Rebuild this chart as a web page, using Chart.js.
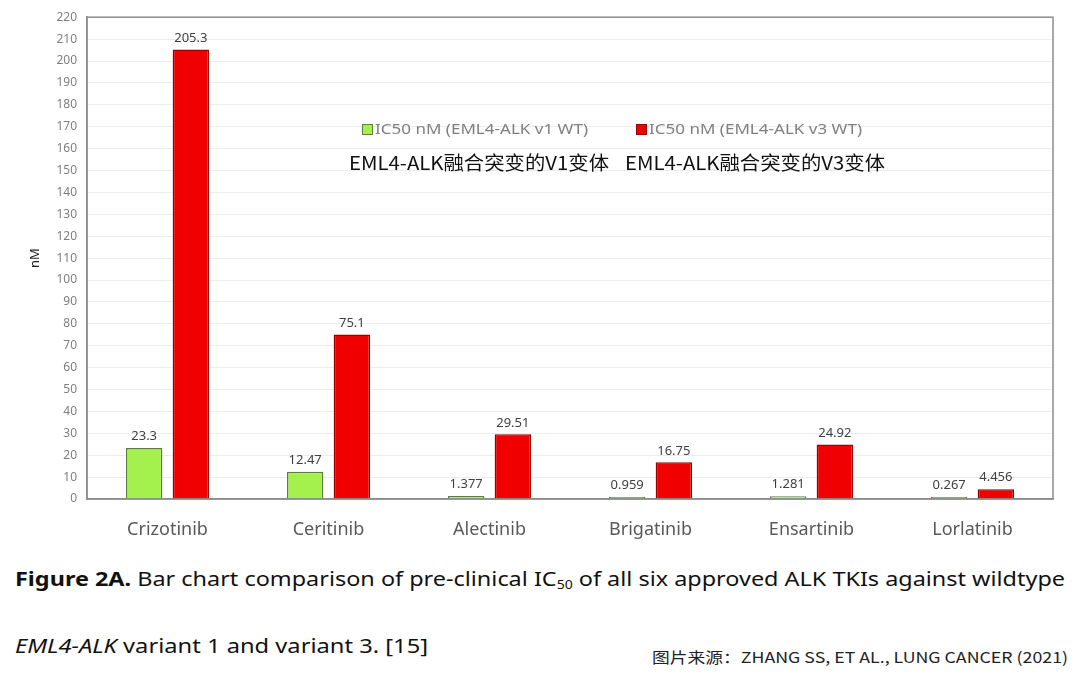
<!DOCTYPE html>
<html>
<head>
<meta charset="utf-8">
<script src="https://cdn.jsdelivr.net/npm/chart.js@4.4.1/dist/chart.umd.min.js"></script>
<style>
  html, body { margin:0; padding:0; background:#fff; width:1080px; height:685px; overflow:hidden; }
  #wrap { position:absolute; left:0; top:0; width:1080px; height:550px; }
  .cap1 { position:absolute; left:15px; top:565px; font-family:"Noto Sans", sans-serif; font-size:20px; color:#111; white-space:nowrap; transform-origin:left top; }
  .cap2 { position:absolute; left:15px; top:632px; font-family:"Noto Sans", sans-serif; font-size:20px; color:#111; white-space:nowrap; transform-origin:left top; }
  .src { position:absolute; left:652px; top:646px; font-family:"Noto Sans CJK SC", "Noto Sans", sans-serif; font-size:15px; color:#222; white-space:nowrap; transform-origin:left top; }
  sub { font-size:12px; vertical-align:-3px; line-height:0; }
</style>
</head>
<body>
<div id="wrap"><canvas id="c" width="1080" height="550"></canvas></div>
<div class="cap1" id="cap1"><b>Figure 2A.</b> Bar chart comparison of pre-clinical IC<sub>50</sub> of all six approved ALK TKIs against wildtype</div>
<div class="cap2" id="cap2"><i>EML4-ALK</i> variant 1 and variant 3. [15]</div>
<div class="src" id="src">图片来源：ZHANG SS, ET AL., LUNG CANCER (2021)</div>
<script>
const categories = ["Crizotinib", "Ceritinib", "Alectinib", "Brigatinib", "Ensartinib", "Lorlatinib"];
const v1Values = [23.3, 12.47, 1.377, 0.959, 1.281, 0.267];
const v3Values = [205.3, 75.1, 29.51, 16.75, 24.92, 4.456];
const v1Labels = ["23.3", "12.47", "1.377", "0.959", "1.281", "0.267"];
const v3Labels = ["205.3", "75.1", "29.51", "16.75", "24.92", "4.456"];
const seriesNames = ["IC50 nM (EML4-ALK v1 WT)", "IC50 nM (EML4-ALK v3 WT)"];
const subtitleNames = ["EML4-ALK融合突变的V1变体", "EML4-ALK融合突变的V3变体"];
const yTitle = "nM";

function fitText(ctx, text, x, y, w) {
  const m = ctx.measureText(text).width;
  ctx.save();
  ctx.translate(x, y);
  ctx.scale(w / m, 1);
  ctx.fillText(text, 0, 0);
  ctx.restore();
}

const valueLabelPlugin = {
  id: 'valueLabels',
  afterDatasetsDraw(chart) {
    const ctx = chart.ctx;
    ctx.save();
    ctx.font = '13px "Noto Sans", sans-serif';
    ctx.fillStyle = '#404040';
    ctx.textAlign = 'center';
    ctx.textBaseline = 'bottom';
    const labels = [v1Labels, v3Labels];
    chart.data.datasets.forEach((ds, i) => {
      chart.getDatasetMeta(i).data.forEach((bar, j) => {
        ctx.fillText(labels[i][j], bar.x, bar.y - 5);
      });
    });
    ctx.restore();
  }
};

const framePlugin = {
  id: 'frame',
  afterDraw(chart) {
    const a = chart.chartArea, ctx = chart.ctx;
    ctx.save();
    ctx.strokeStyle = '#8c8c8c';
    ctx.lineWidth = 1.5;
    ctx.strokeRect(a.left, a.top, a.right - a.left, a.bottom - a.top);
    ctx.restore();
  }
};

const legendPlugin = {
  id: 'insideLegend',
  afterDraw(chart) {
    const ctx = chart.ctx;
    ctx.save();
    const items = [
      { x: 362, sub: 349 },
      { x: 636, sub: 625 }
    ];
    chart.data.datasets.forEach((ds, i) => {
      const it = items[i];
      ctx.fillStyle = ds.backgroundColor;
      ctx.strokeStyle = ds.borderColor;
      ctx.lineWidth = 1;
      ctx.fillRect(it.x, 124, 11, 11);
      ctx.strokeRect(it.x + 0.5, 124.5, 10, 10);
      ctx.font = '15px "Noto Sans", sans-serif';
      ctx.fillStyle = '#7f7f7f';
      ctx.textAlign = 'left';
      ctx.textBaseline = 'middle';
      fitText(ctx, ds.label, it.x + 13, 130, 213);
      ctx.font = '19px "Noto Sans CJK SC", sans-serif';
      ctx.fillStyle = '#111';
      fitText(ctx, subtitleNames[i], it.sub, 163, 260);
    });
    ctx.restore();
  }
};

new Chart(document.getElementById('c'), {
  type: 'bar',
  data: {
    labels: categories,
    datasets: [
      { label: seriesNames[0], data: v1Values, backgroundColor: '#a4f04c', borderColor: '#5e7d3e', borderWidth: 1.5, borderSkipped: 'bottom', minBarLength: 2 },
      { label: seriesNames[1], data: v3Values, backgroundColor: '#f00000', borderColor: '#9a0000', borderWidth: 1.5, borderSkipped: 'bottom' }
    ]
  },
  options: {
    responsive: false,
    animation: false,
    devicePixelRatio: 1,
    categoryPercentage: 0.58,
    barPercentage: 0.78,
    layout: { padding: { left: 0, right: 27, top: 16, bottom: 0 } },
    plugins: {
      legend: { display: false },
      tooltip: { enabled: false }
    },
    scales: {
      x: {
        grid: { display: false },
        border: { color: '#8c8c8c', width: 1.5 },
        ticks: { color: '#595959', font: { family: '"Noto Sans", sans-serif', size: 18 }, padding: 12 },
        afterFit(scale) { scale.height = 51; }
      },
      y: {
        min: 0, max: 220,
        ticks: { stepSize: 10, color: '#7f7f7f', font: { family: '"Noto Sans", sans-serif', size: 12 }, padding: 10 },
        grid: { color: '#ececec', lineWidth: 1, drawTicks: false },
        border: { color: '#8c8c8c', width: 1.5 },
        title: { display: true, text: yTitle, color: '#222', font: { family: '"Noto Sans", sans-serif', size: 13 }, padding: { top: 27, bottom: 0 } },
        afterFit(scale) { scale.width = 87; }
      }
    }
  },
  plugins: [valueLabelPlugin, framePlugin, legendPlugin]
});

function fit(id, w) {
  const el = document.getElementById(id);
  const r = el.getBoundingClientRect().width;
  el.style.transform = 'scaleX(' + (w / r) + ')';
}
fit('cap1', 1050);
fit('cap2', 413);
fit('src', 416);
</script>
</body>
</html>
